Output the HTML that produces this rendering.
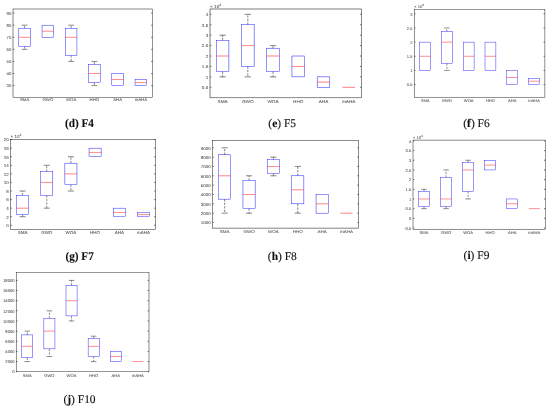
<!DOCTYPE html>
<html><head><meta charset="utf-8"><title>Figure</title>
<style>
html,body{margin:0;padding:0;background:#fff;}
svg{display:block;text-rendering:geometricPrecision;}
.tk{font-family:"Liberation Sans",Arial,sans-serif;fill:#4c4c4c;stroke:#4c4c4c;stroke-width:0.05px;}
.capb{font-weight:bold;font-size:11.9px !important;}
.cap{font-family:"Liberation Serif","Times New Roman",serif;font-size:11.7px;fill:#111;stroke:#111;stroke-width:0.12px;}
</style></head><body>
<svg width="550" height="411" viewBox="0 0 550 411">
<rect width="550" height="411" fill="#fff"/>
<defs><filter id="soft" x="-5%" y="-5%" width="110%" height="110%"><feGaussianBlur stdDeviation="0.45"/></filter><filter id="soft2" x="-10%" y="-30%" width="120%" height="160%"><feGaussianBlur stdDeviation="0.3"/></filter></defs>
<g class="panel" font-size="4.32" filter="url(#soft)">
<rect x="13.00" y="9.00" width="139.50" height="88.50" fill="none" stroke="#101010" stroke-width="0.468"/>
<text class="tk" transform="translate(11.30 85.85) scale(1 0.956)" y="1.56" text-anchor="end">30</text>
<text class="tk" transform="translate(11.30 73.77) scale(1 0.956)" y="1.56" text-anchor="end">40</text>
<text class="tk" transform="translate(11.30 61.68) scale(1 0.956)" y="1.56" text-anchor="end">50</text>
<text class="tk" transform="translate(11.30 49.60) scale(1 0.956)" y="1.56" text-anchor="end">60</text>
<text class="tk" transform="translate(11.30 37.52) scale(1 0.956)" y="1.56" text-anchor="end">70</text>
<text class="tk" transform="translate(11.30 25.43) scale(1 0.956)" y="1.56" text-anchor="end">80</text>
<text class="tk" transform="translate(11.30 13.35) scale(1 0.956)" y="1.56" text-anchor="end">90</text>
<text class="tk" transform="translate(24.62 99.90) scale(1 0.956)" y="1.56" text-anchor="middle">SMA</text>
<text class="tk" transform="translate(47.88 99.90) scale(1 0.956)" y="1.56" text-anchor="middle">GWO</text>
<text class="tk" transform="translate(71.12 99.90) scale(1 0.956)" y="1.56" text-anchor="middle">WOA</text>
<text class="tk" transform="translate(94.38 99.90) scale(1 0.956)" y="1.56" text-anchor="middle">HHO</text>
<text class="tk" transform="translate(117.62 99.90) scale(1 0.956)" y="1.56" text-anchor="middle">AHA</text>
<text class="tk" transform="translate(140.88 99.90) scale(1 0.956)" y="1.56" text-anchor="middle">mAHA</text>
<path d="M13.00 85.60h1.3M152.50 85.60h-1.3M13.00 73.52h1.3M152.50 73.52h-1.3M13.00 61.43h1.3M152.50 61.43h-1.3M13.00 49.35h1.3M152.50 49.35h-1.3M13.00 37.27h1.3M152.50 37.27h-1.3M13.00 25.18h1.3M152.50 25.18h-1.3M13.00 13.10h1.3M152.50 13.10h-1.3" stroke="#101010" stroke-width="0.6" fill="none"/>
<path d="M24.62 28.20V25.18M24.62 46.33V49.35" stroke="#101010" stroke-width="0.468" stroke-dasharray="2.3 1.2" fill="none"/>
<path d="M21.72 25.18h5.81M21.72 49.35h5.81" stroke="#101010" stroke-width="0.468" fill="none"/>
<rect x="18.81" y="28.20" width="11.62" height="18.12" fill="none" stroke="#1010ff" stroke-width="0.428"/>
<path d="M18.81 37.27h11.62" stroke="#ff1010" stroke-width="0.468" fill="none"/>
<rect x="42.06" y="25.18" width="11.62" height="12.08" fill="none" stroke="#1010ff" stroke-width="0.428"/>
<path d="M42.06 31.23h11.62" stroke="#ff1010" stroke-width="0.468" fill="none"/>
<path d="M71.12 28.20V25.18M71.12 55.39V61.43" stroke="#101010" stroke-width="0.468" stroke-dasharray="2.3 1.2" fill="none"/>
<path d="M68.22 25.18h5.81M68.22 61.43h5.81" stroke="#101010" stroke-width="0.468" fill="none"/>
<rect x="65.31" y="28.20" width="11.62" height="27.19" fill="none" stroke="#1010ff" stroke-width="0.428"/>
<path d="M65.31 37.27h11.62" stroke="#ff1010" stroke-width="0.468" fill="none"/>
<path d="M94.38 64.45V61.43M94.38 82.58V85.60" stroke="#101010" stroke-width="0.468" stroke-dasharray="2.3 1.2" fill="none"/>
<path d="M91.47 61.43h5.81M91.47 85.60h5.81" stroke="#101010" stroke-width="0.468" fill="none"/>
<rect x="88.56" y="64.45" width="11.62" height="18.12" fill="none" stroke="#1010ff" stroke-width="0.428"/>
<path d="M88.56 73.52h11.62" stroke="#ff1010" stroke-width="0.468" fill="none"/>
<rect x="111.81" y="73.52" width="11.62" height="12.08" fill="none" stroke="#1010ff" stroke-width="0.428"/>
<path d="M111.81 79.56h11.62" stroke="#ff1010" stroke-width="0.468" fill="none"/>
<rect x="135.06" y="79.56" width="11.62" height="6.04" fill="none" stroke="#1010ff" stroke-width="0.428"/>
<path d="M135.06 82.58h11.62" stroke="#ff1010" stroke-width="0.468" fill="none"/>
</g>
<text class="cap capb" transform="translate(79.40 127.40) scale(0.94 1)" text-anchor="middle" filter="url(#soft2)">(d) F4</text>
<g class="panel" font-size="4.69" filter="url(#soft)">
<rect x="210.00" y="9.00" width="151.30" height="88.80" fill="none" stroke="#101010" stroke-width="0.508"/>
<text class="tk" transform="translate(208.30 87.55) scale(1 0.895)" y="1.69" text-anchor="end">0.5</text>
<text class="tk" transform="translate(208.30 77.12) scale(1 0.895)" y="1.69" text-anchor="end">1</text>
<text class="tk" transform="translate(208.30 66.69) scale(1 0.895)" y="1.69" text-anchor="end">1.5</text>
<text class="tk" transform="translate(208.30 56.26) scale(1 0.895)" y="1.69" text-anchor="end">2</text>
<text class="tk" transform="translate(208.30 45.84) scale(1 0.895)" y="1.69" text-anchor="end">2.5</text>
<text class="tk" transform="translate(208.30 35.41) scale(1 0.895)" y="1.69" text-anchor="end">3</text>
<text class="tk" transform="translate(208.30 24.98) scale(1 0.895)" y="1.69" text-anchor="end">3.5</text>
<text class="tk" transform="translate(208.30 14.55) scale(1 0.895)" y="1.69" text-anchor="end">4</text>
<text class="tk" transform="translate(222.61 101.05) scale(1 0.895)" y="1.69" text-anchor="middle">SMA</text>
<text class="tk" transform="translate(247.82 101.05) scale(1 0.895)" y="1.69" text-anchor="middle">GWO</text>
<text class="tk" transform="translate(273.04 101.05) scale(1 0.895)" y="1.69" text-anchor="middle">WOA</text>
<text class="tk" transform="translate(298.26 101.05) scale(1 0.895)" y="1.69" text-anchor="middle">HHO</text>
<text class="tk" transform="translate(323.48 101.05) scale(1 0.895)" y="1.69" text-anchor="middle">AHA</text>
<text class="tk" transform="translate(348.69 101.05) scale(1 0.895)" y="1.69" text-anchor="middle">mAHA</text>
<path d="M210.00 87.30h1.3M361.30 87.30h-1.3M210.00 76.87h1.3M361.30 76.87h-1.3M210.00 66.44h1.3M361.30 66.44h-1.3M210.00 56.01h1.3M361.30 56.01h-1.3M210.00 45.59h1.3M361.30 45.59h-1.3M210.00 35.16h1.3M361.30 35.16h-1.3M210.00 24.73h1.3M361.30 24.73h-1.3M210.00 14.30h1.3M361.30 14.30h-1.3" stroke="#101010" stroke-width="0.6" fill="none"/>
<text class="tk" transform="translate(210.00 6.00) scale(1 0.895)" y="1.69">× 10<tspan dy="-2.11" font-size="3.75">4</tspan></text>
<path d="M222.61 40.37V35.16M222.61 71.66V76.87" stroke="#101010" stroke-width="0.508" stroke-dasharray="2.3 1.2" fill="none"/>
<path d="M219.46 35.16h6.30M219.46 76.87h6.30" stroke="#101010" stroke-width="0.508" fill="none"/>
<rect x="216.30" y="40.37" width="12.61" height="31.29" fill="none" stroke="#1010ff" stroke-width="0.465"/>
<path d="M216.30 56.01h12.61" stroke="#ff1010" stroke-width="0.508" fill="none"/>
<path d="M247.82 24.73V14.30M247.82 66.44V76.87" stroke="#101010" stroke-width="0.508" stroke-dasharray="2.3 1.2" fill="none"/>
<path d="M244.67 14.30h6.30M244.67 76.87h6.30" stroke="#101010" stroke-width="0.508" fill="none"/>
<rect x="241.52" y="24.73" width="12.61" height="41.71" fill="none" stroke="#1010ff" stroke-width="0.465"/>
<path d="M241.52 45.59h12.61" stroke="#ff1010" stroke-width="0.508" fill="none"/>
<path d="M273.04 48.19V45.59M273.04 71.66V76.87" stroke="#101010" stroke-width="0.508" stroke-dasharray="2.3 1.2" fill="none"/>
<path d="M269.89 45.59h6.30M269.89 76.87h6.30" stroke="#101010" stroke-width="0.508" fill="none"/>
<rect x="266.74" y="48.19" width="12.61" height="23.46" fill="none" stroke="#1010ff" stroke-width="0.465"/>
<path d="M266.74 56.01h12.61" stroke="#ff1010" stroke-width="0.508" fill="none"/>
<rect x="291.95" y="56.01" width="12.61" height="20.86" fill="none" stroke="#1010ff" stroke-width="0.465"/>
<path d="M291.95 66.44h12.61" stroke="#ff1010" stroke-width="0.508" fill="none"/>
<rect x="317.17" y="76.87" width="12.61" height="10.43" fill="none" stroke="#1010ff" stroke-width="0.465"/>
<path d="M317.17 82.09h12.61" stroke="#ff1010" stroke-width="0.508" fill="none"/>
<path d="M342.39 87.30h12.61" stroke="#ff1010" stroke-width="0.508" fill="none"/>
</g>
<text class="cap" transform="translate(282.20 127.00) scale(0.98 1)" text-anchor="middle" filter="url(#soft2)">(<tspan font-weight="bold">e</tspan>) F5</text>
<g class="panel" font-size="4.05" filter="url(#soft)">
<rect x="414.20" y="9.60" width="130.70" height="87.60" fill="none" stroke="#101010" stroke-width="0.439"/>
<text class="tk" transform="translate(412.50 84.85) scale(1 1.0)" y="1.46" text-anchor="end">0.5</text>
<text class="tk" transform="translate(412.50 70.69) scale(1 1.0)" y="1.46" text-anchor="end">1</text>
<text class="tk" transform="translate(412.50 56.53) scale(1 1.0)" y="1.46" text-anchor="end">1.5</text>
<text class="tk" transform="translate(412.50 42.37) scale(1 1.0)" y="1.46" text-anchor="end">2</text>
<text class="tk" transform="translate(412.50 28.21) scale(1 1.0)" y="1.46" text-anchor="end">2.5</text>
<text class="tk" transform="translate(412.50 14.05) scale(1 1.0)" y="1.46" text-anchor="end">3</text>
<text class="tk" transform="translate(425.09 100.10) scale(1 1.0)" y="1.46" text-anchor="middle">SMA</text>
<text class="tk" transform="translate(446.88 100.10) scale(1 1.0)" y="1.46" text-anchor="middle">GWO</text>
<text class="tk" transform="translate(468.66 100.10) scale(1 1.0)" y="1.46" text-anchor="middle">WOA</text>
<text class="tk" transform="translate(490.44 100.10) scale(1 1.0)" y="1.46" text-anchor="middle">HHO</text>
<text class="tk" transform="translate(512.23 100.10) scale(1 1.0)" y="1.46" text-anchor="middle">AHA</text>
<text class="tk" transform="translate(534.01 100.10) scale(1 1.0)" y="1.46" text-anchor="middle">mAHA</text>
<path d="M414.20 84.60h1.3M544.90 84.60h-1.3M414.20 70.44h1.3M544.90 70.44h-1.3M414.20 56.28h1.3M544.90 56.28h-1.3M414.20 42.12h1.3M544.90 42.12h-1.3M414.20 27.96h1.3M544.90 27.96h-1.3M414.20 13.80h1.3M544.90 13.80h-1.3" stroke="#101010" stroke-width="0.6" fill="none"/>
<text class="tk" transform="translate(414.20 6.60) scale(1 1.0)" y="1.46">× 10<tspan dy="-1.82" font-size="3.24">4</tspan></text>
<rect x="419.65" y="42.12" width="10.89" height="28.32" fill="none" stroke="#1010ff" stroke-width="0.401"/>
<path d="M419.65 56.28h10.89" stroke="#ff1010" stroke-width="0.439" fill="none"/>
<path d="M446.88 31.50V27.96M446.88 63.36V70.44" stroke="#101010" stroke-width="0.439" stroke-dasharray="2.3 1.2" fill="none"/>
<path d="M444.15 27.96h5.45M444.15 70.44h5.45" stroke="#101010" stroke-width="0.439" fill="none"/>
<rect x="441.43" y="31.50" width="10.89" height="31.86" fill="none" stroke="#1010ff" stroke-width="0.401"/>
<path d="M441.43 42.12h10.89" stroke="#ff1010" stroke-width="0.439" fill="none"/>
<rect x="463.21" y="42.12" width="10.89" height="28.32" fill="none" stroke="#1010ff" stroke-width="0.401"/>
<path d="M463.21 56.28h10.89" stroke="#ff1010" stroke-width="0.439" fill="none"/>
<rect x="485.00" y="42.12" width="10.89" height="28.32" fill="none" stroke="#1010ff" stroke-width="0.401"/>
<path d="M485.00 56.28h10.89" stroke="#ff1010" stroke-width="0.439" fill="none"/>
<rect x="506.78" y="70.44" width="10.89" height="14.16" fill="none" stroke="#1010ff" stroke-width="0.401"/>
<path d="M506.78 77.52h10.89" stroke="#ff1010" stroke-width="0.439" fill="none"/>
<rect x="528.56" y="78.37" width="10.89" height="6.23" fill="none" stroke="#1010ff" stroke-width="0.401"/>
<path d="M528.56 81.20h10.89" stroke="#ff1010" stroke-width="0.439" fill="none"/>
</g>
<text class="cap" transform="translate(476.50 127.00) scale(0.98 1)" text-anchor="middle" filter="url(#soft2)">(<tspan font-weight="bold">f</tspan>) F6</text>
<g class="panel" font-size="4.5" filter="url(#soft)">
<rect x="10.50" y="139.50" width="145.00" height="89.90" fill="none" stroke="#101010" stroke-width="0.487"/>
<text class="tk" transform="translate(8.80 225.55) scale(1 0.937)" y="1.62" text-anchor="end">0</text>
<text class="tk" transform="translate(8.80 216.98) scale(1 0.937)" y="1.62" text-anchor="end">2</text>
<text class="tk" transform="translate(8.80 208.41) scale(1 0.937)" y="1.62" text-anchor="end">4</text>
<text class="tk" transform="translate(8.80 199.84) scale(1 0.937)" y="1.62" text-anchor="end">6</text>
<text class="tk" transform="translate(8.80 191.27) scale(1 0.937)" y="1.62" text-anchor="end">8</text>
<text class="tk" transform="translate(8.80 182.70) scale(1 0.937)" y="1.62" text-anchor="end">10</text>
<text class="tk" transform="translate(8.80 174.13) scale(1 0.937)" y="1.62" text-anchor="end">12</text>
<text class="tk" transform="translate(8.80 165.56) scale(1 0.937)" y="1.62" text-anchor="end">14</text>
<text class="tk" transform="translate(8.80 156.99) scale(1 0.937)" y="1.62" text-anchor="end">16</text>
<text class="tk" transform="translate(8.80 148.42) scale(1 0.937)" y="1.62" text-anchor="end">18</text>
<text class="tk" transform="translate(8.80 139.85) scale(1 0.937)" y="1.62" text-anchor="end">20</text>
<text class="tk" transform="translate(22.58 232.90) scale(1 0.937)" y="1.62" text-anchor="middle">SMA</text>
<text class="tk" transform="translate(46.75 232.90) scale(1 0.937)" y="1.62" text-anchor="middle">GWO</text>
<text class="tk" transform="translate(70.92 232.90) scale(1 0.937)" y="1.62" text-anchor="middle">WOA</text>
<text class="tk" transform="translate(95.08 232.90) scale(1 0.937)" y="1.62" text-anchor="middle">HHO</text>
<text class="tk" transform="translate(119.25 232.90) scale(1 0.937)" y="1.62" text-anchor="middle">AHA</text>
<text class="tk" transform="translate(143.42 232.90) scale(1 0.937)" y="1.62" text-anchor="middle">mAHA</text>
<path d="M10.50 225.30h1.3M155.50 225.30h-1.3M10.50 216.73h1.3M155.50 216.73h-1.3M10.50 208.16h1.3M155.50 208.16h-1.3M10.50 199.59h1.3M155.50 199.59h-1.3M10.50 191.02h1.3M155.50 191.02h-1.3M10.50 182.45h1.3M155.50 182.45h-1.3M10.50 173.88h1.3M155.50 173.88h-1.3M10.50 165.31h1.3M155.50 165.31h-1.3M10.50 156.74h1.3M155.50 156.74h-1.3M10.50 148.17h1.3M155.50 148.17h-1.3M10.50 139.60h1.3M155.50 139.60h-1.3" stroke="#101010" stroke-width="0.6" fill="none"/>
<text class="tk" transform="translate(10.50 136.50) scale(1 0.937)" y="1.62">× 10<tspan dy="-2.02" font-size="3.60">4</tspan></text>
<path d="M22.58 195.31V191.02M22.58 214.59V216.73" stroke="#101010" stroke-width="0.487" stroke-dasharray="2.3 1.2" fill="none"/>
<path d="M19.56 191.02h6.04M19.56 216.73h6.04" stroke="#101010" stroke-width="0.487" fill="none"/>
<rect x="16.54" y="195.31" width="12.08" height="19.28" fill="none" stroke="#1010ff" stroke-width="0.445"/>
<path d="M16.54 208.16h12.08" stroke="#ff1010" stroke-width="0.487" fill="none"/>
<path d="M46.75 171.74V165.31M46.75 195.31V208.16" stroke="#101010" stroke-width="0.487" stroke-dasharray="2.3 1.2" fill="none"/>
<path d="M43.73 165.31h6.04M43.73 208.16h6.04" stroke="#101010" stroke-width="0.487" fill="none"/>
<rect x="40.71" y="171.74" width="12.08" height="23.57" fill="none" stroke="#1010ff" stroke-width="0.445"/>
<path d="M40.71 182.45h12.08" stroke="#ff1010" stroke-width="0.487" fill="none"/>
<path d="M70.92 163.17V156.74M70.92 184.59V191.02" stroke="#101010" stroke-width="0.487" stroke-dasharray="2.3 1.2" fill="none"/>
<path d="M67.90 156.74h6.04M67.90 191.02h6.04" stroke="#101010" stroke-width="0.487" fill="none"/>
<rect x="64.88" y="163.17" width="12.08" height="21.43" fill="none" stroke="#1010ff" stroke-width="0.445"/>
<path d="M64.88 173.88h12.08" stroke="#ff1010" stroke-width="0.487" fill="none"/>
<rect x="89.04" y="148.17" width="12.08" height="8.57" fill="none" stroke="#1010ff" stroke-width="0.445"/>
<path d="M89.04 152.45h12.08" stroke="#ff1010" stroke-width="0.487" fill="none"/>
<rect x="113.21" y="208.16" width="12.08" height="8.57" fill="none" stroke="#1010ff" stroke-width="0.445"/>
<path d="M113.21 212.44h12.08" stroke="#ff1010" stroke-width="0.487" fill="none"/>
<rect x="137.38" y="212.44" width="12.08" height="4.29" fill="none" stroke="#1010ff" stroke-width="0.445"/>
<path d="M137.38 214.59h12.08" stroke="#ff1010" stroke-width="0.487" fill="none"/>
</g>
<text class="cap capb" transform="translate(79.60 259.70) scale(0.94 1)" text-anchor="middle" filter="url(#soft2)">(g) F7</text>
<g class="panel" font-size="4.53" filter="url(#soft)">
<rect x="212.50" y="140.60" width="146.20" height="87.50" fill="none" stroke="#101010" stroke-width="0.491"/>
<text class="tk" transform="translate(210.80 222.75) scale(1 0.91)" y="1.63" text-anchor="end">1000</text>
<text class="tk" transform="translate(210.80 213.41) scale(1 0.91)" y="1.63" text-anchor="end">2000</text>
<text class="tk" transform="translate(210.80 204.07) scale(1 0.91)" y="1.63" text-anchor="end">3000</text>
<text class="tk" transform="translate(210.80 194.74) scale(1 0.91)" y="1.63" text-anchor="end">4000</text>
<text class="tk" transform="translate(210.80 185.40) scale(1 0.91)" y="1.63" text-anchor="end">5000</text>
<text class="tk" transform="translate(210.80 176.06) scale(1 0.91)" y="1.63" text-anchor="end">6000</text>
<text class="tk" transform="translate(210.80 166.73) scale(1 0.91)" y="1.63" text-anchor="end">7000</text>
<text class="tk" transform="translate(210.80 157.39) scale(1 0.91)" y="1.63" text-anchor="end">8000</text>
<text class="tk" transform="translate(210.80 148.05) scale(1 0.91)" y="1.63" text-anchor="end">9000</text>
<text class="tk" transform="translate(224.68 231.40) scale(1 0.91)" y="1.63" text-anchor="middle">SMA</text>
<text class="tk" transform="translate(249.05 231.40) scale(1 0.91)" y="1.63" text-anchor="middle">GWO</text>
<text class="tk" transform="translate(273.42 231.40) scale(1 0.91)" y="1.63" text-anchor="middle">WOA</text>
<text class="tk" transform="translate(297.78 231.40) scale(1 0.91)" y="1.63" text-anchor="middle">HHO</text>
<text class="tk" transform="translate(322.15 231.40) scale(1 0.91)" y="1.63" text-anchor="middle">AHA</text>
<text class="tk" transform="translate(346.52 231.40) scale(1 0.91)" y="1.63" text-anchor="middle">mAHA</text>
<path d="M212.50 222.50h1.3M358.70 222.50h-1.3M212.50 213.16h1.3M358.70 213.16h-1.3M212.50 203.82h1.3M358.70 203.82h-1.3M212.50 194.49h1.3M358.70 194.49h-1.3M212.50 185.15h1.3M358.70 185.15h-1.3M212.50 175.81h1.3M358.70 175.81h-1.3M212.50 166.48h1.3M358.70 166.48h-1.3M212.50 157.14h1.3M358.70 157.14h-1.3M212.50 147.80h1.3M358.70 147.80h-1.3" stroke="#101010" stroke-width="0.6" fill="none"/>
<path d="M224.68 154.80V147.80M224.68 199.16V213.16" stroke="#101010" stroke-width="0.491" stroke-dasharray="2.3 1.2" fill="none"/>
<path d="M221.64 147.80h6.09M221.64 213.16h6.09" stroke="#101010" stroke-width="0.491" fill="none"/>
<rect x="218.59" y="154.80" width="12.18" height="44.35" fill="none" stroke="#1010ff" stroke-width="0.449"/>
<path d="M218.59 175.81h12.18" stroke="#ff1010" stroke-width="0.491" fill="none"/>
<path d="M249.05 180.48V175.81M249.05 208.49V213.16" stroke="#101010" stroke-width="0.491" stroke-dasharray="2.3 1.2" fill="none"/>
<path d="M246.00 175.81h6.09M246.00 213.16h6.09" stroke="#101010" stroke-width="0.491" fill="none"/>
<rect x="242.96" y="180.48" width="12.18" height="28.01" fill="none" stroke="#1010ff" stroke-width="0.449"/>
<path d="M242.96 194.49h12.18" stroke="#ff1010" stroke-width="0.491" fill="none"/>
<path d="M273.42 159.47V157.14M273.42 173.48V175.81" stroke="#101010" stroke-width="0.491" stroke-dasharray="2.3 1.2" fill="none"/>
<path d="M270.37 157.14h6.09M270.37 175.81h6.09" stroke="#101010" stroke-width="0.491" fill="none"/>
<rect x="267.32" y="159.47" width="12.18" height="14.01" fill="none" stroke="#1010ff" stroke-width="0.449"/>
<path d="M267.32 166.48h12.18" stroke="#ff1010" stroke-width="0.491" fill="none"/>
<path d="M297.78 175.81V166.48M297.78 203.82V213.16" stroke="#101010" stroke-width="0.491" stroke-dasharray="2.3 1.2" fill="none"/>
<path d="M294.74 166.48h6.09M294.74 213.16h6.09" stroke="#101010" stroke-width="0.491" fill="none"/>
<rect x="291.69" y="175.81" width="12.18" height="28.01" fill="none" stroke="#1010ff" stroke-width="0.449"/>
<path d="M291.69 189.82h12.18" stroke="#ff1010" stroke-width="0.491" fill="none"/>
<rect x="316.06" y="194.49" width="12.18" height="18.68" fill="none" stroke="#1010ff" stroke-width="0.449"/>
<path d="M316.06 203.82h12.18" stroke="#ff1010" stroke-width="0.491" fill="none"/>
<path d="M340.43 213.16h12.18" stroke="#ff1010" stroke-width="0.491" fill="none"/>
</g>
<text class="cap" transform="translate(282.30 259.50) scale(0.98 1)" text-anchor="middle" filter="url(#soft2)">(<tspan font-weight="bold">h</tspan>) F8</text>
<g class="panel" font-size="4.1" filter="url(#soft)">
<rect x="413.00" y="140.10" width="132.30" height="89.10" fill="none" stroke="#101010" stroke-width="0.444"/>
<text class="tk" transform="translate(411.30 228.25) scale(1 1.0)" y="1.48" text-anchor="end">-0.5</text>
<text class="tk" transform="translate(411.30 218.57) scale(1 1.0)" y="1.48" text-anchor="end">0</text>
<text class="tk" transform="translate(411.30 208.89) scale(1 1.0)" y="1.48" text-anchor="end">0.5</text>
<text class="tk" transform="translate(411.30 199.22) scale(1 1.0)" y="1.48" text-anchor="end">1</text>
<text class="tk" transform="translate(411.30 189.54) scale(1 1.0)" y="1.48" text-anchor="end">1.5</text>
<text class="tk" transform="translate(411.30 179.86) scale(1 1.0)" y="1.48" text-anchor="end">2</text>
<text class="tk" transform="translate(411.30 170.18) scale(1 1.0)" y="1.48" text-anchor="end">2.5</text>
<text class="tk" transform="translate(411.30 160.51) scale(1 1.0)" y="1.48" text-anchor="end">3</text>
<text class="tk" transform="translate(411.30 150.83) scale(1 1.0)" y="1.48" text-anchor="end">3.5</text>
<text class="tk" transform="translate(411.30 141.15) scale(1 1.0)" y="1.48" text-anchor="end">4</text>
<text class="tk" transform="translate(424.02 232.35) scale(1 1.0)" y="1.48" text-anchor="middle">SMA</text>
<text class="tk" transform="translate(446.07 232.35) scale(1 1.0)" y="1.48" text-anchor="middle">GWO</text>
<text class="tk" transform="translate(468.12 232.35) scale(1 1.0)" y="1.48" text-anchor="middle">WOA</text>
<text class="tk" transform="translate(490.17 232.35) scale(1 1.0)" y="1.48" text-anchor="middle">HHO</text>
<text class="tk" transform="translate(512.22 232.35) scale(1 1.0)" y="1.48" text-anchor="middle">AHA</text>
<text class="tk" transform="translate(534.27 232.35) scale(1 1.0)" y="1.48" text-anchor="middle">mAHA</text>
<path d="M413.00 228.00h1.3M545.30 228.00h-1.3M413.00 218.32h1.3M545.30 218.32h-1.3M413.00 208.64h1.3M545.30 208.64h-1.3M413.00 198.97h1.3M545.30 198.97h-1.3M413.00 189.29h1.3M545.30 189.29h-1.3M413.00 179.61h1.3M545.30 179.61h-1.3M413.00 169.93h1.3M545.30 169.93h-1.3M413.00 160.26h1.3M545.30 160.26h-1.3M413.00 150.58h1.3M545.30 150.58h-1.3M413.00 140.90h1.3M545.30 140.90h-1.3" stroke="#101010" stroke-width="0.6" fill="none"/>
<text class="tk" transform="translate(413.00 137.10) scale(1 1.0)" y="1.48">× 10<tspan dy="-1.84" font-size="3.28">4</tspan></text>
<path d="M424.02 191.22V189.29M424.02 206.22V208.64" stroke="#101010" stroke-width="0.444" stroke-dasharray="2.3 1.2" fill="none"/>
<path d="M421.27 189.29h5.51M421.27 208.64h5.51" stroke="#101010" stroke-width="0.444" fill="none"/>
<rect x="418.51" y="191.22" width="11.02" height="15.00" fill="none" stroke="#1010ff" stroke-width="0.406"/>
<path d="M418.51 198.97h11.02" stroke="#ff1010" stroke-width="0.444" fill="none"/>
<path d="M446.07 177.68V169.93M446.07 206.22V208.64" stroke="#101010" stroke-width="0.444" stroke-dasharray="2.3 1.2" fill="none"/>
<path d="M443.32 169.93h5.51M443.32 208.64h5.51" stroke="#101010" stroke-width="0.444" fill="none"/>
<rect x="440.56" y="177.68" width="11.02" height="28.55" fill="none" stroke="#1010ff" stroke-width="0.406"/>
<path d="M440.56 198.97h11.02" stroke="#ff1010" stroke-width="0.444" fill="none"/>
<path d="M468.12 162.68V160.26M468.12 191.22V198.97" stroke="#101010" stroke-width="0.444" stroke-dasharray="2.3 1.2" fill="none"/>
<path d="M465.37 160.26h5.51M465.37 198.97h5.51" stroke="#101010" stroke-width="0.444" fill="none"/>
<rect x="462.61" y="162.68" width="11.02" height="28.55" fill="none" stroke="#1010ff" stroke-width="0.406"/>
<path d="M462.61 169.93h11.02" stroke="#ff1010" stroke-width="0.444" fill="none"/>
<rect x="484.66" y="160.26" width="11.02" height="9.68" fill="none" stroke="#1010ff" stroke-width="0.406"/>
<path d="M484.66 165.09h11.02" stroke="#ff1010" stroke-width="0.444" fill="none"/>
<rect x="506.71" y="198.97" width="11.02" height="9.68" fill="none" stroke="#1010ff" stroke-width="0.406"/>
<path d="M506.71 203.81h11.02" stroke="#ff1010" stroke-width="0.444" fill="none"/>
<path d="M528.76 208.64h11.02" stroke="#ff1010" stroke-width="0.444" fill="none"/>
</g>
<text class="cap" transform="translate(476.50 259.40) scale(0.98 1)" text-anchor="middle" filter="url(#soft2)">(<tspan font-weight="bold">i</tspan>) F9</text>
<g class="panel" font-size="4.12" filter="url(#soft)">
<rect x="16.20" y="272.50" width="132.80" height="99.20" fill="none" stroke="#101010" stroke-width="0.446"/>
<text class="tk" transform="translate(14.50 371.95) scale(1 1.0)" y="1.48" text-anchor="end">0</text>
<text class="tk" transform="translate(14.50 361.81) scale(1 1.0)" y="1.48" text-anchor="end">2000</text>
<text class="tk" transform="translate(14.50 351.66) scale(1 1.0)" y="1.48" text-anchor="end">4000</text>
<text class="tk" transform="translate(14.50 341.52) scale(1 1.0)" y="1.48" text-anchor="end">6000</text>
<text class="tk" transform="translate(14.50 331.37) scale(1 1.0)" y="1.48" text-anchor="end">8000</text>
<text class="tk" transform="translate(14.50 321.23) scale(1 1.0)" y="1.48" text-anchor="end">10000</text>
<text class="tk" transform="translate(14.50 311.08) scale(1 1.0)" y="1.48" text-anchor="end">12000</text>
<text class="tk" transform="translate(14.50 300.94) scale(1 1.0)" y="1.48" text-anchor="end">14000</text>
<text class="tk" transform="translate(14.50 290.79) scale(1 1.0)" y="1.48" text-anchor="end">16000</text>
<text class="tk" transform="translate(14.50 280.65) scale(1 1.0)" y="1.48" text-anchor="end">18000</text>
<text class="tk" transform="translate(27.27 375.50) scale(1 1.0)" y="1.48" text-anchor="middle">SMA</text>
<text class="tk" transform="translate(49.40 375.50) scale(1 1.0)" y="1.48" text-anchor="middle">GWO</text>
<text class="tk" transform="translate(71.53 375.50) scale(1 1.0)" y="1.48" text-anchor="middle">WOA</text>
<text class="tk" transform="translate(93.67 375.50) scale(1 1.0)" y="1.48" text-anchor="middle">HHO</text>
<text class="tk" transform="translate(115.80 375.50) scale(1 1.0)" y="1.48" text-anchor="middle">AHA</text>
<text class="tk" transform="translate(137.93 375.50) scale(1 1.0)" y="1.48" text-anchor="middle">mAHA</text>
<path d="M16.20 371.70h1.3M149.00 371.70h-1.3M16.20 361.56h1.3M149.00 361.56h-1.3M16.20 351.41h1.3M149.00 351.41h-1.3M16.20 341.27h1.3M149.00 341.27h-1.3M16.20 331.12h1.3M149.00 331.12h-1.3M16.20 320.98h1.3M149.00 320.98h-1.3M16.20 310.83h1.3M149.00 310.83h-1.3M16.20 300.69h1.3M149.00 300.69h-1.3M16.20 290.54h1.3M149.00 290.54h-1.3M16.20 280.40h1.3M149.00 280.40h-1.3" stroke="#101010" stroke-width="0.6" fill="none"/>
<path d="M27.27 334.93V331.12M27.27 357.75V361.56" stroke="#101010" stroke-width="0.446" stroke-dasharray="2.3 1.2" fill="none"/>
<path d="M24.50 331.12h5.53M24.50 361.56h5.53" stroke="#101010" stroke-width="0.446" fill="none"/>
<rect x="21.73" y="334.93" width="11.07" height="22.82" fill="none" stroke="#1010ff" stroke-width="0.408"/>
<path d="M21.73 346.34h11.07" stroke="#ff1010" stroke-width="0.446" fill="none"/>
<path d="M49.40 318.44V310.83M49.40 348.88V356.48" stroke="#101010" stroke-width="0.446" stroke-dasharray="2.3 1.2" fill="none"/>
<path d="M46.63 310.83h5.53M46.63 356.48h5.53" stroke="#101010" stroke-width="0.446" fill="none"/>
<rect x="43.87" y="318.44" width="11.07" height="30.43" fill="none" stroke="#1010ff" stroke-width="0.408"/>
<path d="M43.87 331.12h11.07" stroke="#ff1010" stroke-width="0.446" fill="none"/>
<path d="M71.53 285.47V280.40M71.53 315.91V320.98" stroke="#101010" stroke-width="0.446" stroke-dasharray="2.3 1.2" fill="none"/>
<path d="M68.77 280.40h5.53M68.77 320.98h5.53" stroke="#101010" stroke-width="0.446" fill="none"/>
<rect x="66.00" y="285.47" width="11.07" height="30.43" fill="none" stroke="#1010ff" stroke-width="0.408"/>
<path d="M66.00 300.69h11.07" stroke="#ff1010" stroke-width="0.446" fill="none"/>
<path d="M93.67 338.73V336.19M93.67 356.48V361.56" stroke="#101010" stroke-width="0.446" stroke-dasharray="2.3 1.2" fill="none"/>
<path d="M90.90 336.19h5.53M90.90 361.56h5.53" stroke="#101010" stroke-width="0.446" fill="none"/>
<rect x="88.13" y="338.73" width="11.07" height="17.75" fill="none" stroke="#1010ff" stroke-width="0.408"/>
<path d="M88.13 346.34h11.07" stroke="#ff1010" stroke-width="0.446" fill="none"/>
<rect x="110.27" y="351.41" width="11.07" height="10.14" fill="none" stroke="#1010ff" stroke-width="0.408"/>
<path d="M110.27 356.48h11.07" stroke="#ff1010" stroke-width="0.446" fill="none"/>
<path d="M132.40 361.56h11.07" stroke="#ff1010" stroke-width="0.446" fill="none"/>
</g>
<text class="cap" transform="translate(79.50 402.90) scale(0.98 1)" text-anchor="middle" filter="url(#soft2)">(<tspan font-weight="bold">j</tspan>) F10</text>
</svg>
</body></html>
